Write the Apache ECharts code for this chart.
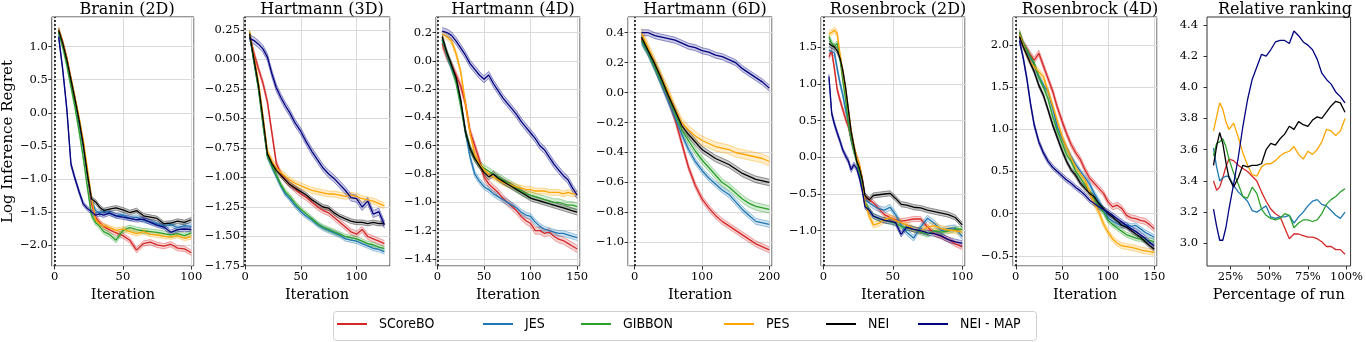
<!DOCTYPE html>
<html>
<head>
<meta charset="utf-8">
<script src="https://cdn.jsdelivr.net/npm/echarts@6/dist/echarts.min.js"></script>
<style>
html, body { margin: 0; padding: 0; background: #fff; }
#chart { width: 1366px; height: 342px; }
</style>
</head>
<body>
<div id="chart"></div>
<script>
var methods = ['SCoreBO', 'JES', 'GIBBON', 'PES', 'NEI', 'NEI - MAP'];
var colors = ['#d62728', '#1f77b4', '#2ca02c', '#ffa500', '#000000', '#000080'];

// Branin (2D)
var braninX = [3, 6, 9, 12, 15, 18, 21, 24, 27, 30, 33, 36, 40, 45, 50, 55, 60, 65, 70, 75, 80, 85, 90, 95, 100];
var braninScoreBO = [1.25, 1.06, 0.82, 0.50, 0.20, -0.12, -0.48, -0.92, -1.38, -1.58, -1.66, -1.72, -1.77, -1.82, -1.86, -1.93, -2.08, -1.98, -1.96, -2.00, -2.02, -1.99, -2.05, -2.06, -2.12];
var braninJES = [1.22, 1.03, 0.78, 0.47, 0.18, -0.15, -0.50, -0.92, -1.33, -1.48, -1.52, -1.49, -1.51, -1.56, -1.55, -1.60, -1.58, -1.63, -1.65, -1.68, -1.72, -1.69, -1.74, -1.71, -1.72];
var braninGIBBON = [1.22, 1.00, 0.72, 0.40, 0.08, -0.28, -0.68, -1.12, -1.55, -1.66, -1.72, -1.80, -1.84, -1.93, -1.78, -1.74, -1.77, -1.79, -1.80, -1.81, -1.83, -1.85, -1.83, -1.86, -1.82];
var braninPES = [1.26, 1.06, 0.82, 0.52, 0.22, -0.08, -0.42, -0.85, -1.28, -1.62, -1.68, -1.71, -1.74, -1.78, -1.76, -1.80, -1.83, -1.80, -1.84, -1.85, -1.87, -1.88, -1.86, -1.90, -1.88];
var braninNEI = [1.25, 1.05, 0.80, 0.50, 0.20, -0.12, -0.48, -0.92, -1.30, -1.35, -1.43, -1.48, -1.46, -1.44, -1.47, -1.51, -1.48, -1.56, -1.58, -1.60, -1.68, -1.67, -1.64, -1.66, -1.62];
var braninNEIMAP = [1.15, 0.65, 0.05, -0.78, -1.00, -1.20, -1.38, -1.45, -1.50, -1.55, -1.53, -1.55, -1.52, -1.56, -1.58, -1.60, -1.62, -1.61, -1.66, -1.70, -1.73, -1.81, -1.77, -1.76, -1.77];
var braninBand = [0.04, 0.035, 0.04, 0.035, 0.035, 0.035];

// Hartmann (3D)
var h3X = [4, 8, 12, 16, 20, 24, 28, 32, 36, 40, 45, 50, 55, 60, 65, 70, 75, 80, 85, 90, 95, 100, 105, 110, 115, 120, 125];
var h3ScoreBO = [0.20, 0.05, -0.08, -0.20, -0.36, -0.62, -0.88, -0.97, -1.02, -1.06, -1.10, -1.14, -1.17, -1.21, -1.25, -1.28, -1.30, -1.34, -1.38, -1.42, -1.46, -1.48, -1.44, -1.50, -1.52, -1.54, -1.56];
var h3JES = [0.21, -0.02, -0.24, -0.53, -0.82, -0.91, -0.99, -1.07, -1.14, -1.18, -1.24, -1.29, -1.33, -1.36, -1.40, -1.43, -1.45, -1.47, -1.49, -1.52, -1.53, -1.54, -1.56, -1.58, -1.60, -1.61, -1.63];
var h3GIBBON = [0.22, -0.02, -0.25, -0.55, -0.82, -0.90, -0.98, -1.06, -1.12, -1.16, -1.22, -1.27, -1.31, -1.35, -1.39, -1.42, -1.44, -1.46, -1.48, -1.50, -1.51, -1.52, -1.54, -1.56, -1.57, -1.59, -1.60];
var h3PES = [0.23, 0.02, -0.20, -0.48, -0.78, -0.86, -0.92, -0.96, -0.99, -1.02, -1.05, -1.07, -1.09, -1.11, -1.12, -1.13, -1.14, -1.14, -1.15, -1.16, -1.15, -1.16, -1.18, -1.19, -1.20, -1.22, -1.24];
var h3NEI = [0.22, 0.00, -0.22, -0.50, -0.80, -0.88, -0.94, -0.98, -1.02, -1.06, -1.09, -1.12, -1.15, -1.19, -1.22, -1.25, -1.26, -1.30, -1.33, -1.35, -1.37, -1.38, -1.38, -1.39, -1.38, -1.39, -1.39];
var h3NEIMAP = [0.18, 0.16, 0.13, 0.09, 0.02, -0.12, -0.24, -0.32, -0.39, -0.45, -0.54, -0.61, -0.70, -0.78, -0.85, -0.92, -0.97, -1.01, -1.06, -1.11, -1.17, -1.18, -1.25, -1.20, -1.31, -1.29, -1.40];
var h3Band = [0.025, 0.02, 0.02, 0.025, 0.02, 0.03];

// Hartmann (4D)
var h4X = [5, 10, 15, 20, 25, 30, 35, 40, 45, 50, 55, 60, 65, 70, 75, 80, 85, 90, 95, 100, 105, 110, 115, 120, 125, 130, 135, 140, 145, 150];
var h4ScoreBO = [0.12, 0.03, -0.03, -0.10, -0.18, -0.30, -0.50, -0.60, -0.70, -0.82, -0.87, -0.90, -0.93, -0.97, -1.00, -1.03, -1.06, -1.10, -1.13, -1.15, -1.20, -1.20, -1.22, -1.21, -1.24, -1.26, -1.27, -1.29, -1.31, -1.33];
var h4JES = [0.15, 0.04, -0.05, -0.14, -0.30, -0.50, -0.68, -0.80, -0.85, -0.89, -0.91, -0.94, -0.96, -0.98, -1.00, -1.02, -1.04, -1.07, -1.09, -1.10, -1.14, -1.17, -1.19, -1.20, -1.21, -1.22, -1.22, -1.23, -1.24, -1.25];
var h4GIBBON = [0.15, 0.05, -0.04, -0.15, -0.32, -0.50, -0.62, -0.69, -0.73, -0.76, -0.78, -0.80, -0.82, -0.84, -0.86, -0.88, -0.90, -0.92, -0.94, -0.95, -0.96, -0.97, -0.98, -0.99, -1.00, -1.00, -1.01, -1.02, -1.02, -1.03];
var h4PES = [0.19, 0.17, 0.14, 0.05, -0.08, -0.30, -0.51, -0.66, -0.73, -0.77, -0.80, -0.82, -0.84, -0.86, -0.87, -0.88, -0.89, -0.90, -0.91, -0.91, -0.92, -0.92, -0.92, -0.93, -0.93, -0.93, -0.94, -0.93, -0.94, -0.94];
var h4NEI = [0.17, 0.06, -0.03, -0.12, -0.28, -0.50, -0.62, -0.69, -0.74, -0.79, -0.82, -0.80, -0.83, -0.85, -0.87, -0.89, -0.91, -0.93, -0.95, -0.97, -0.98, -0.99, -1.00, -1.01, -1.02, -1.03, -1.04, -1.05, -1.06, -1.07];
var h4NEIMAP = [0.21, 0.20, 0.18, 0.14, 0.09, 0.04, -0.02, -0.06, -0.10, -0.13, -0.10, -0.16, -0.21, -0.26, -0.30, -0.34, -0.38, -0.43, -0.47, -0.51, -0.55, -0.60, -0.63, -0.68, -0.73, -0.77, -0.81, -0.84, -0.90, -0.95];
var h4Band = [0.025, 0.02, 0.025, 0.02, 0.02, 0.025];

// Hartmann (6D)
var h6X = [10, 20, 30, 40, 50, 60, 70, 80, 90, 100, 110, 120, 130, 140, 150, 160, 170, 180, 190, 200];
var h6ScoreBO = [0.36, 0.27, 0.17, 0.06, -0.05, -0.18, -0.34, -0.50, -0.62, -0.71, -0.77, -0.82, -0.86, -0.89, -0.92, -0.95, -0.98, -1.01, -1.03, -1.05];
var h6JES = [0.34, 0.26, 0.16, 0.05, -0.06, -0.17, -0.28, -0.38, -0.46, -0.52, -0.57, -0.61, -0.65, -0.68, -0.73, -0.78, -0.82, -0.86, -0.87, -0.88];
var h6GIBBON = [0.35, 0.27, 0.17, 0.07, -0.03, -0.14, -0.25, -0.32, -0.39, -0.45, -0.50, -0.55, -0.60, -0.63, -0.67, -0.71, -0.74, -0.76, -0.77, -0.78];
var h6PES = [0.40, 0.30, 0.20, 0.10, 0.00, -0.11, -0.20, -0.25, -0.29, -0.32, -0.34, -0.36, -0.37, -0.38, -0.40, -0.41, -0.42, -0.43, -0.44, -0.46];
var h6NEI = [0.37, 0.28, 0.19, 0.09, -0.02, -0.12, -0.22, -0.28, -0.33, -0.38, -0.41, -0.44, -0.46, -0.48, -0.51, -0.54, -0.56, -0.58, -0.59, -0.60];
var h6NEIMAP = [0.40, 0.40, 0.38, 0.37, 0.36, 0.35, 0.33, 0.31, 0.30, 0.28, 0.27, 0.25, 0.24, 0.22, 0.20, 0.16, 0.13, 0.10, 0.07, 0.03];
var h6Band = [0.02, 0.02, 0.025, 0.03, 0.022, 0.02];

// Rosenbrock (2D)
var r2X = [4, 6, 8, 10, 12, 14, 16, 18, 20, 22, 24, 26, 28, 30, 33, 36, 40, 44, 48, 52, 56, 60, 65, 70, 75, 80, 85, 90, 95, 100];
var r2ScoreBO = [1.37, 1.45, 1.20, 0.92, 0.78, 0.65, 0.52, 0.42, 0.25, 0.10, 0.00, -0.12, -0.30, -0.55, -0.58, -0.62, -0.70, -0.78, -0.82, -0.85, -0.87, -0.86, -0.84, -0.84, -0.95, -1.04, -1.08, -1.12, -1.18, -1.22];
var r2JES = [1.46, 1.44, 1.42, 1.20, 1.01, 0.85, 0.65, 0.48, 0.24, 0.10, -0.02, -0.15, -0.32, -0.58, -0.62, -0.66, -0.70, -0.72, -0.68, -0.78, -0.92, -1.02, -1.10, -0.95, -0.83, -0.90, -1.00, -0.97, -0.96, -1.08];
var r2GIBBON = [1.64, 1.55, 1.51, 1.55, 1.35, 1.05, 0.80, 0.45, 0.25, 0.08, -0.05, -0.22, -0.39, -0.62, -0.72, -0.80, -0.84, -0.86, -0.88, -0.90, -0.94, -0.96, -0.98, -1.02, -1.05, -1.00, -1.02, -1.00, -0.98, -0.98];
var r2PES = [1.68, 1.70, 1.73, 1.68, 1.40, 1.15, 0.92, 0.65, 0.35, 0.15, 0.00, -0.10, -0.30, -0.62, -0.80, -0.92, -0.90, -0.85, -0.82, -0.86, -0.89, -0.92, -0.98, -1.00, -0.95, -0.93, -0.97, -0.99, -1.00, -1.02];
var r2NEI = [1.55, 1.52, 1.50, 1.45, 1.35, 1.18, 0.95, 0.65, 0.35, 0.15, -0.05, -0.15, -0.30, -0.52, -0.58, -0.52, -0.51, -0.50, -0.49, -0.56, -0.64, -0.65, -0.68, -0.69, -0.72, -0.74, -0.76, -0.78, -0.82, -0.92];
var r2NEIMAP = [1.10, 0.60, 0.45, 0.33, 0.22, 0.10, 0.02, -0.05, -0.17, -0.10, -0.15, -0.28, -0.45, -0.67, -0.72, -0.80, -0.83, -0.86, -0.87, -0.89, -1.05, -0.95, -0.98, -1.00, -1.03, -1.04, -1.07, -1.12, -1.15, -1.17];
var r2Band = [0.035, 0.04, 0.035, 0.04, 0.035, 0.035];

// Rosenbrock (4D)
var r4X = [4, 8, 12, 16, 20, 25, 30, 35, 40, 45, 50, 55, 60, 65, 70, 75, 80, 85, 90, 95, 100, 105, 110, 115, 120, 125, 130, 135, 140, 145, 150];
var r4ScoreBO = [2.14, 2.02, 1.95, 1.88, 1.82, 1.90, 1.75, 1.60, 1.45, 1.26, 1.10, 0.95, 0.82, 0.72, 0.64, 0.52, 0.42, 0.36, 0.30, 0.24, 0.14, 0.08, 0.10, 0.06, -0.02, -0.05, -0.06, -0.08, -0.09, -0.13, -0.18];
var r4JES = [2.12, 2.00, 1.92, 1.84, 1.76, 1.62, 1.52, 1.45, 1.25, 1.03, 0.90, 0.78, 0.67, 0.58, 0.50, 0.43, 0.35, 0.24, 0.15, 0.05, -0.05, -0.09, -0.12, -0.14, -0.13, -0.15, -0.14, -0.18, -0.22, -0.25, -0.28];
var r4GIBBON = [2.15, 2.02, 1.94, 1.86, 1.78, 1.62, 1.50, 1.36, 1.15, 0.98, 0.84, 0.70, 0.62, 0.50, 0.42, 0.34, 0.26, 0.18, 0.08, 0.02, -0.08, -0.13, -0.17, -0.21, -0.25, -0.27, -0.29, -0.30, -0.31, -0.32, -0.33];
var r4PES = [2.12, 2.00, 1.88, 1.80, 1.74, 1.68, 1.62, 1.45, 1.28, 1.10, 0.92, 0.78, 0.66, 0.55, 0.47, 0.40, 0.25, 0.12, 0.02, -0.12, -0.22, -0.30, -0.35, -0.38, -0.39, -0.40, -0.41, -0.43, -0.44, -0.45, -0.46];
var r4NEI = [2.10, 1.98, 1.88, 1.78, 1.68, 1.52, 1.40, 1.23, 1.05, 0.90, 0.75, 0.62, 0.52, 0.45, 0.36, 0.30, 0.24, 0.20, 0.12, 0.06, 0.00, -0.04, -0.09, -0.14, -0.16, -0.20, -0.24, -0.28, -0.33, -0.38, -0.42];
var r4NEIMAP = [2.05, 1.85, 1.60, 1.30, 1.05, 0.85, 0.72, 0.62, 0.55, 0.50, 0.45, 0.40, 0.36, 0.31, 0.27, 0.22, 0.16, 0.12, 0.08, 0.05, 0.02, -0.02, -0.06, -0.10, -0.14, -0.18, -0.21, -0.25, -0.29, -0.34, -0.38];
var r4Band = [0.035, 0.03, 0.03, 0.035, 0.025, 0.03];

// Relative ranking (percentage of run)
var rankX = [14, 16, 18, 20, 22, 24, 27, 30, 33, 36, 39, 42, 45, 48, 51, 54, 57, 60, 63, 66, 69, 72, 75, 78, 81, 84, 87, 90, 93, 96, 99];
var rankScoreBO = [3.40, 3.34, 3.36, 3.42, 3.49, 3.54, 3.53, 3.50, 3.48, 3.46, 3.43, 3.40, 3.33, 3.27, 3.22, 3.19, 3.17, 3.10, 3.03, 3.06, 3.06, 3.05, 3.04, 3.04, 3.03, 3.01, 2.98, 2.98, 2.96, 2.96, 2.93];
var rankJES = [3.61, 3.49, 3.40, 3.42, 3.43, 3.43, 3.37, 3.33, 3.30, 3.27, 3.21, 3.20, 3.22, 3.24, 3.17, 3.16, 3.17, 3.17, 3.18, 3.13, 3.17, 3.20, 3.24, 3.27, 3.28, 3.25, 3.24, 3.21, 3.18, 3.16, 3.20];
var rankGIBBON = [3.56, 3.64, 3.65, 3.67, 3.62, 3.54, 3.45, 3.38, 3.30, 3.29, 3.36, 3.32, 3.22, 3.18, 3.16, 3.15, 3.16, 3.19, 3.18, 3.10, 3.13, 3.15, 3.15, 3.14, 3.15, 3.19, 3.25, 3.28, 3.30, 3.33, 3.35];
var rankPES = [3.72, 3.81, 3.90, 3.86, 3.78, 3.73, 3.77, 3.68, 3.58, 3.50, 3.44, 3.43, 3.49, 3.51, 3.51, 3.53, 3.56, 3.58, 3.59, 3.62, 3.57, 3.54, 3.59, 3.57, 3.60, 3.65, 3.73, 3.72, 3.69, 3.72, 3.80];
var rankNEI = [3.50, 3.62, 3.71, 3.64, 3.52, 3.42, 3.36, 3.42, 3.50, 3.49, 3.50, 3.50, 3.51, 3.60, 3.64, 3.63, 3.67, 3.70, 3.75, 3.73, 3.78, 3.76, 3.75, 3.79, 3.81, 3.80, 3.84, 3.88, 3.91, 3.90, 3.84];
var rankNEIMAP = [3.22, 3.11, 3.02, 3.02, 3.10, 3.22, 3.38, 3.55, 3.75, 3.92, 4.05, 4.13, 4.21, 4.20, 4.24, 4.29, 4.30, 4.30, 4.28, 4.36, 4.33, 4.29, 4.27, 4.24, 4.18, 4.09, 4.05, 4.02, 3.97, 3.94, 3.90];
var rankTicks = [25, 50, 75, 100];

var serif = 'DejaVu Serif';

var panels = [
	{ title: 'Branin (2D)', left: 50, width: 144, xMin: -2, xMax: 102, yMin: -2.32, yMax: 1.45, xSplit: 2, ySplit: 7, dec: 1,
	  xs: braninX, ys: [braninScoreBO, braninJES, braninGIBBON, braninPES, braninNEI, braninNEIMAP], band: braninBand },
	{ title: 'Hartmann (3D)', left: 244, width: 146, xMin: -1, xMax: 130, yMin: -1.75, yMax: 0.36, xSplit: 3, yInterval: 0.25, dec: 2,
	  xs: h3X, ys: [h3ScoreBO, h3JES, h3GIBBON, h3PES, h3NEI, h3NEIMAP], band: h3Band },
	{ title: 'Hartmann (4D)', left: 436, width: 144, xMin: -1.6, xMax: 153, yMin: -1.45, yMax: 0.31, xSplit: 3, ySplit: 9, dec: 1,
	  xs: h4X, ys: [h4ScoreBO, h4JES, h4GIBBON, h4PES, h4NEI, h4NEIMAP], band: h4Band },
	{ title: 'Hartmann (6D)', left: 628, width: 144, xMin: -10, xMax: 204, yMin: -1.158, yMax: 0.505, xSplit: 2, ySplit: 8, dec: 1,
	  xs: h6X, ys: [h6ScoreBO, h6JES, h6GIBBON, h6PES, h6NEI, h6NEIMAP], band: h6Band },
	{ title: 'Rosenbrock (2D)', left: 821, width: 144, xMin: -1.7, xMax: 102, yMin: -1.48, yMax: 1.91, xSplit: 2, ySplit: 7, dec: 1,
	  xs: r2X, ys: [r2ScoreBO, r2JES, r2GIBBON, r2PES, r2NEI, r2NEIMAP], band: r2Band },
	{ title: 'Rosenbrock (4D)', left: 1013, width: 144, xMin: -3, xMax: 153, yMin: -0.62, yMax: 2.33, xSplit: 3, ySplit: 6, dec: 1,
	  xs: r4X, ys: [r4ScoreBO, r4JES, r4GIBBON, r4PES, r4NEI, r4NEIMAP], band: r4Band },
	{ title: 'Relative ranking', left: 1207, width: 146, xMin: 9.8, xMax: 102.6, yMin: 2.855, yMax: 4.45, ySplit: 8, dec: 1,
	  xs: rankX, ys: [rankScoreBO, rankJES, rankGIBBON, rankPES, rankNEI, rankNEIMAP], band: null }
];

function fmt(v, dec) {
	if (Math.abs(v) < 1e-9) v = 0;
	var s = v.toFixed(dec);
	if (s.charAt(0) === '-') s = '\u2212' + s.slice(1);
	return s;
}

// shaded band drawn as one polygon through the axis scales
function bandSeries(pi, xs, ys, w, k) {
	var pts = [];
	for (var i = 0; i < xs.length; i++) pts.push([xs[i], ys[i] - w, ys[i] + w]);
	return {
		type: 'custom', xAxisIndex: pi, yAxisIndex: pi, silent: true, z: 1,
		data: pts, encode: { x: 0, y: [1, 2] },
		renderItem: function (params, api) {
			if (params.dataIndex !== 0) return null;
			var lo = [], hi = [];
			for (var j = 0; j < pts.length; j++) {
				lo.push(api.coord([pts[j][0], pts[j][1]]));
				hi.push(api.coord([pts[j][0], pts[j][2]]));
			}
			return {
				type: 'group',
				children: [
					{ type: 'polygon', shape: { points: lo.concat(hi.slice().reverse()) }, style: { fill: colors[k], opacity: 0.2 } },
					{ type: 'polyline', shape: { points: lo }, style: { stroke: colors[k], fill: 'none', lineWidth: 0.8, opacity: 0.5 } },
					{ type: 'polyline', shape: { points: hi }, style: { stroke: colors[k], fill: 'none', lineWidth: 0.8, opacity: 0.5 } }
				]
			};
		}
	};
}

var grids = [], xAxes = [], yAxes = [], titles = [], series = [];
panels.forEach(function (p, i) {
	var last = (i === panels.length - 1);
	grids.push({ left: p.left, top: 17, width: p.width, height: 249, show: true, borderColor: '#333', borderWidth: 1, backgroundColor: 'transparent' });
	titles.push({ text: p.title, left: p.left + p.width / 2, top: -3, textAlign: 'center',
		textStyle: { fontFamily: serif, fontSize: 16, fontWeight: 'normal', color: '#000' } });
	var xa = {
		type: 'value', gridIndex: i, min: p.xMin, max: p.xMax,
		name: last ? 'Percentage of run' : 'Iteration', nameLocation: 'middle', nameGap: 17,
		nameTextStyle: { fontFamily: serif, fontSize: 14.5, color: '#000' },
		axisLine: { show: false, onZero: false },
		axisTick: { show: true, length: 3.5, lineStyle: { color: '#333' } },
		axisLabel: { margin: 5, fontFamily: serif, fontSize: 11.5, color: '#000', showMinLabel: false, showMaxLabel: false,
			formatter: function (v) { return String(Math.round(v)); } },
		splitLine: { show: !last, lineStyle: { color: '#dadada', width: 1 } }
	};
	if (last) {
		xa.axisTick.customValues = rankTicks;
		xa.axisLabel.customValues = rankTicks;
		xa.axisLabel.showMinLabel = true;
		xa.axisLabel.showMaxLabel = true;
		xa.axisLabel.formatter = function (v) { return v + '%'; };
	} else {
		xa.splitNumber = p.xSplit;
	}
	xAxes.push(xa);
	var ya = {
		type: 'value', gridIndex: i, min: p.yMin, max: p.yMax,
		axisLine: { show: false, onZero: false },
		axisTick: { show: true, length: 3.5, lineStyle: { color: '#333' } },
		axisLabel: { margin: last ? 9 : 4, fontFamily: serif, fontSize: 11.5, color: '#000',
			showMinLabel: p.yInterval ? true : false, showMaxLabel: false,
			formatter: (function (d) { return function (v) { return fmt(v, d); }; })(p.dec) },
		splitLine: { show: !last, lineStyle: { color: '#dadada', width: 1 } }
	};
	if (p.yInterval) ya.interval = p.yInterval; else ya.splitNumber = p.ySplit;
	if (i === 0) {
		ya.name = 'Log Inference Regret';
		ya.nameLocation = 'middle';
		ya.nameGap = 33;
		ya.nameTextStyle = { fontFamily: serif, fontSize: 15, color: '#000' };
	}
	yAxes.push(ya);

	for (var k = 0; k < methods.length; k++) {
		if (p.band) series.push(bandSeries(i, p.xs, p.ys[k], p.band[k], k));
		var pts = [];
		for (var j = 0; j < p.xs.length; j++) pts.push([p.xs[j], p.ys[k][j]]);
		var s = {
			name: methods[k], type: 'line', xAxisIndex: i, yAxisIndex: i, data: pts,
			symbol: 'none', z: 2,
			lineStyle: { color: colors[k], width: 1.3 },
			itemStyle: { color: colors[k] }
		};
		if (k === 0 && !last) {
			s.markLine = { silent: true, symbol: ['none', 'none'], label: { show: false },
				lineStyle: { color: '#000', width: 1.5, type: [2, 2] }, data: [{ xAxis: 0 }] };
		}
		series.push(s);
	}
});

var legendLeft = [337, 483, 581, 724, 826, 918];
var legends = methods.map(function (m, k) {
	return { data: [m], left: legendLeft[k], top: 317, padding: 0, itemWidth: 30, itemHeight: 2, icon: 'rect',
		selectedMode: false, textStyle: { fontFamily: 'DejaVu Sans Condensed, DejaVu Sans', fontSize: 14, color: '#000', padding: [0, 0, 0, 7] } };
});

var chart = echarts.init(document.getElementById('chart'));
chart.setOption({
	animation: false,
	backgroundColor: '#fff',
	title: titles,
	grid: grids,
	xAxis: xAxes,
	yAxis: yAxes,
	legend: legends,
	graphic: [{ type: 'rect', z: -1, shape: { x: 333.5, y: 311.5, width: 703, height: 29, r: 3 },
		style: { fill: '#fff', stroke: '#d0d0d0', lineWidth: 1 } }],
	series: series
});
</script>
</body>
</html>
